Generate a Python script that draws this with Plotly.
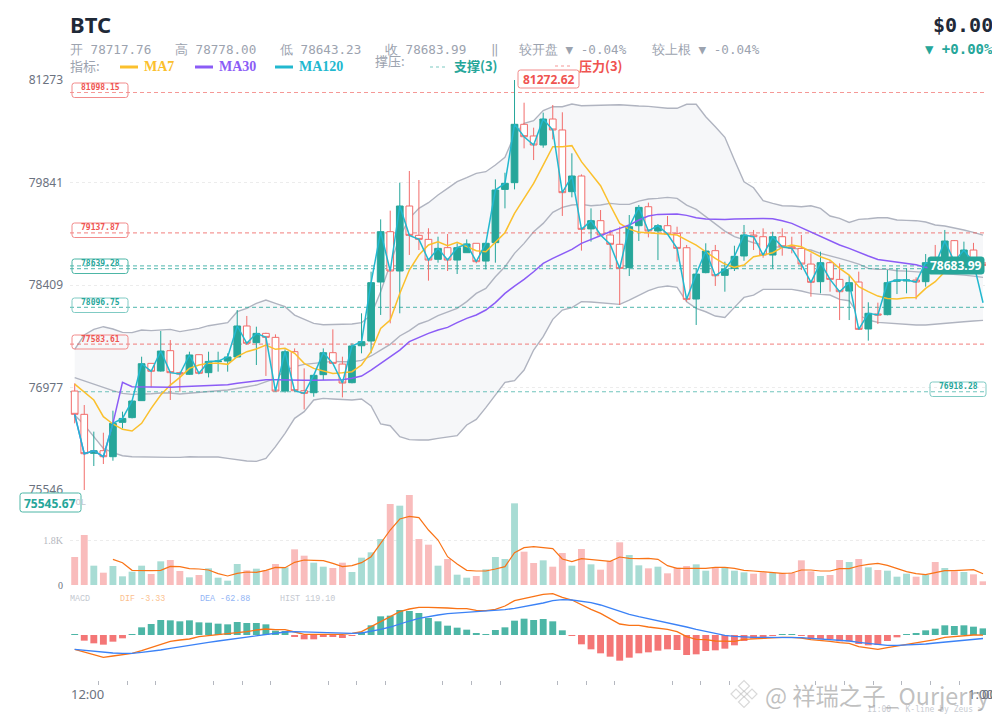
import plotly.graph_objects as go

# ---------------- Candles ----------------
opens = [76928, 76603, 76058, 76095, 76011, 76491, 76557, 76794, 77315, 77208, 77492, 77185,
         77162, 77436, 77185, 77338, 77347, 77404, 77837, 77604, 77734, 77678, 76928, 77478,
         76933, 76905, 77157, 77464, 77305, 77045, 77561, 77627, 78451, 79154, 78605, 79513,
         79103, 79047, 78768, 78931, 78758, 78861, 78992, 78744, 79001, 79745, 79839, 80654,
         80491, 80365, 80728, 80575, 79713, 79932, 79193, 79308, 79108, 78978, 78652, 79238,
         79503, 79164, 79238, 79131, 78930, 78214, 78582, 78889, 78544, 78642, 78815, 79108,
         79084, 78828, 79084, 78944, 78921, 78702, 78456, 78721, 78488, 78325, 78451, 77795,
         78005, 77995, 78461, 78465, 78479, 78456, 78721, 78689, 79029, 78721, 78898, 78717.76]
highs = [77036, 76733, 76361, 76346, 76654, 76640, 76803, 77408, 77315, 77767, 77641, 77199,
         77478, 77441, 77478, 77478, 77455, 78060, 77977, 77827, 77743, 77720, 77510, 77524,
         77245, 77153, 77524, 77790, 77408, 77595, 78014, 78596, 79326, 79448, 79839, 80002,
         79876, 79202, 79084, 79122, 78992, 79047, 78992, 78992, 79885, 79978, 81272.62, 80956,
         80607, 80817, 80924, 80822, 80249, 79955, 79480, 79457, 79178, 79224, 79387, 79527,
         79560, 79262, 79374, 79224, 78969, 78642, 78992, 78969, 78735, 78958, 79248, 79178,
         79201, 79154, 79201, 79084, 79108, 78852, 78875, 78758, 78712, 78548, 78596, 78168,
         78163, 78619, 78642, 78642, 78516, 78842, 78969, 79178, 79038, 79015, 78998, 78778]
lows = [76477, 75545.67, 75881, 75909, 75955, 76406, 76546, 76789, 76980, 77199, 76803, 76919,
        77153, 77166, 77119, 77199, 77199, 77399, 77572, 77292, 77139, 76919, 76905, 76919,
        76672, 76849, 77082, 77315, 76840, 77036, 77455, 77455, 77991, 77874, 78014, 78829,
        78898, 78470, 78721, 78605, 78563, 78861, 78712, 78628, 78721, 79480, 79745, 80318,
        80155, 80327, 80444, 79374, 79634, 78889, 79015, 79108, 78642, 78130, 78535, 79024,
        79075, 78758, 79108, 78735, 78177, 77851, 78573, 78396, 78316, 78605, 78748, 78898,
        78790, 78642, 78819, 78852, 78619, 78246, 78293, 78316, 77920, 77920, 77781, 77632,
        77864, 77986, 78283, 78293, 78209, 78386, 78573, 78619, 78573, 78573, 78573, 78643.23]
closes = [76603, 76053, 76095, 76011, 76477, 76546, 76789, 77310, 77204, 77487, 77185, 77166,
          77432, 77176, 77342, 77347, 77404, 77837, 77595, 77734, 77678, 76928, 77478, 76933,
          76896, 77148, 77464, 77315, 77040, 77558, 77618, 78442, 79154, 78605, 79513, 79103,
          79047, 78758, 78921, 78758, 78931, 78983, 78735, 78992, 79736, 79830, 80654, 80481,
          80365, 80728, 80575, 79699, 79932, 79187, 79308, 79108, 78978, 78642, 79224, 79494,
          79164, 79238, 79122, 78921, 78209, 78562, 78884, 78539, 78628, 78810, 79108, 79084,
          78828, 79084, 78944, 78921, 78702, 78447, 78721, 78488, 78316, 78442, 77790, 78014,
          77991, 78442, 78479, 78479, 78451, 78721, 78689, 79024, 78735, 78898, 78721, 78683.99]

# ---------------- Price overlays ----------------
ma7 = [77026, 76919, 76803, 76570, 76468, 76393, 76370, 76477, 76686, 76873, 77012, 77120,
       77245, 77292, 77315, 77315, 77301, 77408, 77478, 77515, 77571, 77511, 77525, 77455,
       77315, 77245, 77213, 77175, 77185, 77199, 77292, 77478, 77804, 77921, 78292, 78619,
       78828, 78968, 79014, 78958, 79005, 78945, 78889, 78875, 79005, 79140, 79410, 79620,
       79829, 80085, 80342, 80342, 80356, 80132, 79969, 79797, 79527, 79270, 79191, 79145,
       79140, 79131, 79121, 79107, 79037, 78968, 78874, 78781, 78702, 78656, 78688, 78805,
       78828, 78860, 78935, 78968, 78944, 78874, 78805, 78758, 78642, 78548, 78385, 78316,
       78255, 78222, 78213, 78232, 78236, 78362, 78455, 78595, 78595, 78618, 78642, 78595]
ma30 = [76603, 76053, 76095, 76011, 76477, 77050, 76989, 76985, 76980, 76980, 76980, 76989,
        76994, 77003, 77008, 77012, 77017, 77036, 77054, 77073, 77087, 77087, 77082, 77078,
        77078, 77078, 77082, 77087, 77087, 77106, 77138, 77222, 77315, 77408, 77501, 77618,
        77678, 77734, 77781, 77818, 77883, 77944, 77990, 78060, 78163, 78292, 78395, 78488,
        78595, 78712, 78781, 78842, 78907, 78991, 79047, 79107, 79154, 79201, 79247, 79317,
        79373, 79396, 79396, 79401, 79382, 79349, 79331, 79326, 79326, 79331, 79335, 79340,
        79340, 79335, 79308, 79270, 79210, 79145, 79093, 79028, 78968, 78921, 78865, 78814,
        78767, 78749, 78730, 78711, 78693, 78656, 78628, 78609, 78595, 78586, 78581, 78572]
ma120 = [76603, 76053, 76095, 76011, 76477, 76546, 76789, 77310, 77204, 77487, 77185, 77166,
         77432, 77176, 77342, 77347, 77404, 77837, 77595, 77734, 77678, 76928, 77478, 76933,
         76896, 77148, 77464, 77315, 77040, 77558, 77618, 78442, 79154, 78605, 79513, 79103,
         79047, 78758, 78921, 78758, 78931, 78983, 78735, 78992, 79736, 79830, 80654, 80481,
         80365, 80728, 80575, 79699, 79932, 79187, 79308, 79108, 78978, 78642, 79224, 79494,
         79164, 79238, 79122, 78921, 78209, 78562, 78884, 78539, 78628, 78810, 79108, 79084,
         78828, 79084, 78944, 78921, 78702, 78447, 78721, 78488, 78316, 78442, 77790, 78014,
         77991, 78442, 78479, 78479, 78451, 78721, 78689, 79024, 78735, 78898, 78721, 78162]
boll_upper = [77511, 77711, 77790, 77827, 77795, 77748, 77744, 77781, 77772, 77781, 77790, 77758,
              77781, 77804, 77841, 77865, 77883, 78037, 78084, 78153, 78200, 78153, 78107, 77990,
              77930, 77874, 77855, 77855, 77860, 77865, 77883, 77990, 78316, 78688, 79084, 79340,
              79480, 79559, 79666, 79759, 79853, 79908, 79969, 79992, 80085, 80193, 80505, 80668,
              80705, 80845, 80900, 80900, 80938, 80914, 80914, 80919, 80924, 80928, 80924, 80910,
              80905, 80891, 80878, 80878, 80934, 80934, 80760, 80621, 80473, 80155, 79852, 79768,
              79587, 79550, 79517, 79512, 79503, 79517, 79480, 79373, 79340, 79284, 79326, 79335,
              79349, 79349, 79317, 79312, 79308, 79289, 79247, 79233, 79210, 79177, 79145, 79107]
boll_mid = [77115, 77073, 77026, 76980, 76933, 76896, 76882, 76882, 76891, 76901, 76901, 76887,
            76896, 76910, 76919, 76933, 76943, 76961, 76989, 77012, 77059, 77106, 77213, 77269,
            77301, 77315, 77329, 77343, 77338, 77338, 77357, 77418, 77501, 77581, 77697, 77772,
            77865, 77911, 77981, 78028, 78084, 78177, 78292, 78362, 78525, 78665, 78851, 78991,
            79154, 79270, 79424, 79494, 79527, 79536, 79517, 79527, 79550, 79536, 79536, 79582,
            79610, 79620, 79634, 79620, 79526, 79466, 79363, 79270, 79163, 79084, 79037, 79000,
            78968, 78944, 78935, 78921, 78907, 78898, 78851, 78819, 78781, 78744, 78702, 78642,
            78628, 78628, 78609, 78604, 78595, 78590, 78581, 78572, 78558, 78548, 78534, 78516]
boll_lower = [76593, 76454, 76291, 76128, 76067, 76025, 76011, 76007, 76002, 75997, 76002, 76002,
              76011, 76007, 76011, 76007, 75988, 75965, 75951, 75946, 75988, 76151, 76337, 76547,
              76640, 76803, 76826, 76817, 76808, 76803, 76817, 76719, 76468, 76444, 76291, 76249,
              76244, 76244, 76267, 76286, 76305, 76454, 76533, 76696, 76873, 77050, 77073, 77222,
              77501, 77688, 77930, 78060, 78093, 78177, 78172, 78162, 78153, 78139, 78199, 78269,
              78330, 78376, 78395, 78376, 78176, 78083, 78036, 77976, 77957, 78097, 78236, 78269,
              78348, 78348, 78348, 78348, 78325, 78292, 78278, 78269, 78208, 78190, 77990, 77920,
              77887, 77878, 77864, 77859, 77850, 77850, 77864, 77878, 77887, 77896, 77906, 77915]

# ---------------- Volume ----------------
volumes = [1120, 2000, 773, 493, 760, 347, 533, 773, 440, 947, 1000, 560,
           307, 400, 667, 293, 173, 840, 587, 653, 587, 840, 707, 1427,
           1173, 893, 733, 680, 893, 520, 1093, 1307, 1840, 3240, 3173, 3600,
           1840, 1613, 773, 1040, 413, 293, 360, 627, 1120, 1040, 3267, 1333,
           880, 987, 733, 1280, 773, 1440, 827, 613, 960, 1707, 1200, 787,
           667, 733, 467, 693, 760, 827, 573, 707, 680, 573, 507, 453,
           507, 480, 467, 493, 987, 547, 360, 400, 1000, 920, 1040, 707,
           600, 573, 333, 453, 333, 400, 920, 680, 547, 520, 427, 147]
vol_ma = [None, None, None, None, 1027, 893, 587, 573, 573, 587, 747, 733,
          653, 640, 600, 453, 360, 467, 520, 507, 587, 707, 693, 907,
          1000, 987, 973, 867, 733, 773, 893, 1133, 1667, 2200, 2640, 2747,
          2693, 2200, 1800, 1133, 840, 587, 560, 560, 640, 733, 1293, 1493,
          1533, 1507, 1453, 1040, 933, 1053, 1027, 1000, 947, 1120, 1067, 1053,
          1067, 1027, 773, 667, 667, 693, 667, 707, 707, 667, 587, 560,
          533, 493, 467, 480, 600, 600, 560, 560, 653, 653, 760, 827,
          867, 787, 667, 533, 453, 413, 493, 573, 573, 600, 613, 453]

# ---------------- MACD ----------------
dif = [-258, -306, -354, -402, -378, -360, -330, -282, -228, -168, -114, -90,
       -72, -30, -12, 0, 18, 30, 60, 90, 108, 96, 96, 54,
       12, 12, 12, 0, 12, 30, 60, 150, 240, 330, 420, 468,
       498, 498, 498, 486, 474, 474, 444, 438, 462, 522, 618, 660,
       690, 732, 744, 678, 630, 540, 462, 390, 300, 198, 174, 174,
       144, 126, 102, 60, -30, -78, -84, -108, -114, -114, -78, -66,
       -54, -42, -42, -42, -54, -84, -96, -114, -138, -150, -210, -240,
       -258, -228, -198, -180, -150, -114, -84, -42, -30, -6, 0, -3.33]
dea = [-258, -276, -294, -312, -324, -330, -330, -312, -294, -270, -240, -210,
       -180, -156, -132, -108, -84, -66, -42, -18, 6, 30, 54, 60,
       54, 48, 42, 36, 36, 30, 36, 66, 102, 144, 204, 252,
       300, 336, 360, 384, 396, 408, 414, 420, 438, 456, 480, 510,
       540, 576, 618, 636, 630, 612, 582, 540, 480, 426, 372, 330,
       294, 258, 228, 192, 144, 102, 66, 30, -6, -24, -36, -42,
       -42, -42, -42, -42, -48, -60, -72, -84, -90, -108, -132, -150,
       -168, -186, -186, -180, -174, -162, -144, -126, -108, -90, -72, -62.88]
hist = [6, -102, -150, -174, -120, -60, 12, 138, 198, 270, 264, 246,
        264, 228, 222, 204, 192, 234, 216, 216, 192, 78, 72, -24,
        -78, -78, -36, -30, -54, -18, 54, 174, 336, 348, 450, 432,
        396, 306, 246, 168, 132, 96, 30, 12, 90, 138, 258, 294,
        270, 288, 246, 84, -12, -168, -258, -330, -390, -462, -408, -330,
        -312, -282, -258, -270, -360, -348, -288, -276, -246, -186, -108, -66,
        -66, -18, 12, 12, -12, -66, -72, -72, -114, -114, -162, -186,
        -180, -108, -42, 6, 24, 84, 114, 174, 162, 174, 150, 119.10]

# ---------------- Levels and ticks ----------------
resistance = [81098.15, 79137.87, 77583.61]
support = [78676, 78639.28, 78096.75, 76918.28]
price_ticks = [75546, 76977, 78409, 79841, 81273]
price_ticktext = ["75546", "76977", "78409", "79841", "81273"]
vol_ticks = [0, 1800, 3600]
vol_ticktext = ["0", "1.8K", "3.7K"]
macd_ticks = [-756, 0, 756]
macd_ticktext = ["-756", "0", "756"]
time_ticks = [2.5, 5.5, 8.5, 14.5, 17.5, 20.5, 26.5, 29.5, 32.5, 38.5, 41.5, 44.5,
              50.5, 53.5, 56.5, 62.5, 65.5, 68.5, 77.5, 80.5, 83.5, 86.5, 89.5, 92.5]

x = list(range(96))
x_range = [-0.49, 95.31]

TEAL = "#26a69a"
RED = "#ef5350"
GREY = "#9ca3af"
MONO = "DejaVu Sans Mono"
SANS = "Noto Sans CJK SC"
SERIF = "Liberation Serif"
# the page has an 8px body margin, so the figure is 8px short on each side
W, H = 992, 712
OFFSET = 8


def px(v):
    return (v - OFFSET) / W


def py(v):
    return 1 - (v - OFFSET) / H


fig = go.Figure()

# bands and levels sit on the base y axis, candles on an overlay so they draw on top
band = dict(color="#b0b4c0", width=1.4)
fig.add_trace(go.Scatter(x=x, y=boll_upper, mode="lines", line=band))
fig.add_trace(go.Scatter(x=x, y=boll_lower, mode="lines", line=band, fill="tonexty",
                         fillcolor="#f6f7f9"))
fig.add_trace(go.Scatter(x=x, y=boll_mid, mode="lines", line=band))

for v in resistance:
    fig.add_trace(go.Scatter(x=x_range, y=[v, v], mode="lines",
                             line=dict(color="rgba(239,83,80,0.6)", width=1.2, dash="4px,3px")))
for v in support:
    fig.add_trace(go.Scatter(x=x_range, y=[v, v], mode="lines",
                             line=dict(color="rgba(38,166,154,0.65)", width=1.2, dash="4px,3px")))

fig.add_trace(go.Candlestick(
    x=x, open=opens, high=highs, low=lows, close=closes, yaxis="y4",
    increasing=dict(line=dict(color=TEAL, width=1), fillcolor=TEAL),
    decreasing=dict(line=dict(color="#f26d6b", width=1), fillcolor="#ffffff"),
    whiskerwidth=0))
fig.add_trace(go.Scatter(x=x, y=ma7, mode="lines", yaxis="y4", line=dict(color="#fbc02d", width=1.5)))
fig.add_trace(go.Scatter(x=x, y=ma30, mode="lines", yaxis="y4", line=dict(color="#8b5cf6", width=1.5)))
fig.add_trace(go.Scatter(x=x, y=ma120, mode="lines", yaxis="y4", line=dict(color="#22b8cf", width=1.5)))

# ---------------- Volume panel ----------------
vol_colors = ["#a8dcd4" if c >= o else "#f9bcbc" for o, c in zip(opens, closes)]
fig.add_trace(go.Bar(x=x, y=volumes, yaxis="y2", width=0.72, marker=dict(color=vol_colors, line_width=0)))
fig.add_trace(go.Scatter(x=x, y=vol_ma, mode="lines", yaxis="y5", line=dict(color="#f97316", width=1.2)))

# ---------------- MACD panel ----------------
hist_colors = ["#4db6a6" if h >= 0 else "#f47676" for h in hist]
fig.add_trace(go.Bar(x=x, y=hist, yaxis="y3", width=0.72, marker=dict(color=hist_colors, line_width=0)))
fig.add_trace(go.Scatter(x=x, y=dif, mode="lines", yaxis="y6", line=dict(color="#f97316", width=1.3)))
fig.add_trace(go.Scatter(x=x, y=dea, mode="lines", yaxis="y6", line=dict(color="#3b82f6", width=1.3)))


def text(xp, yp, s, size, color, family=MONO, anchor="left"):
    # annotations carry about 2px of padding round the text
    nudge = {"left": -2, "right": 1, "center": 0}[anchor]
    return dict(xref="paper", yref="paper", x=px(xp + nudge), y=py(yp), text=s, showarrow=False,
                xanchor=anchor, yanchor="middle", font=dict(size=size, color=color, family=family))


def round_box(x0, y0, x1, y1, color, fill="#ffffff", r=2.5):
    rx, ry = r / W, r / H
    a, b, c, d = px(x0), px(x1), py(y0), py(y1)
    path = (f"M{a + rx},{c} L{b - rx},{c} Q{b},{c} {b},{c - ry} L{b},{d + ry} Q{b},{d} {b - rx},{d} "
            f"L{a + rx},{d} Q{a},{d} {a},{d + ry} L{a},{c - ry} Q{a},{c} {a + rx},{c} Z")
    return dict(type="path", path=path, xref="paper", yref="paper", layer="above",
                line=dict(color=color, width=1), fillcolor=fill)


def legend_line(x0, x1, y, color, width=3, dash="solid"):
    return dict(type="line", xref="paper", yref="paper", x0=px(x0), x1=px(x1), y0=py(y), y1=py(y),
                line=dict(color=color, width=width, dash=dash), layer="above")


def diamond(cx, cy, r):
    a, b = r / W, r / H
    path = f"M{px(cx) - a},{py(cy)} L{px(cx)},{py(cy) + b} L{px(cx) + a},{py(cy)} L{px(cx)},{py(cy) - b} Z"
    return dict(type="path", path=path, xref="paper", yref="paper", layer="above",
                line=dict(color="rgba(170,170,170,0.45)", width=1.2),
                fillcolor="rgba(255,255,255,0.5)")


notes = [
    text(70, 24, "<b>BTC</b>", 22, "#1f2937", "Noto Sans"),
    text(994, 25, "<b>$0.00</b>", 20, "#1f2937", MONO, "right"),
    text(70, 49, "开 78717.76", 12.6, GREY),
    text(175, 49, "高 78778.00", 12.6, GREY),
    text(280, 49, "低 78643.23", 12.6, GREY),
    text(385, 49, "收 78683.99", 12.6, GREY),
    text(491, 49, "‖", 12.6, GREY),
    text(519, 49, "较开盘 ▼ -0.04%", 12.6, GREY),
    text(652, 49, "较上根 ▼ -0.04%", 12.6, GREY),
    text(994, 49, "<b>▼ +0.00%</b>", 14, TEAL, MONO, "right"),
    text(70, 65, "指标:", 13, GREY, SANS),
    text(144, 66, "<b>MA7</b>", 14, "#fbc02d", SERIF),
    text(219, 66, "<b>MA30</b>", 14, "#8b5cf6", SERIF),
    text(299, 66, "<b>MA120</b>", 14, "#22b8cf", SERIF),
    text(375, 61, "撑压:", 13, GREY, SANS),
    text(454, 65, "<b>支撑(3)</b>", 13, TEAL, SANS),
    text(579, 65, "<b>压力(3)</b>", 13, RED, SANS),
    text(70, 503, "VOL", 9, "#c4c8d0", "Liberation Mono"),
    text(548.5, 79, "<b>81272.62</b>", 12, "#ef5350", "Noto Sans", "center"),
    text(50, 503, "<b>75545.67</b>", 12, TEAL, "Noto Sans", "center"),
    text(956, 265.5, "<b>78683.99</b>", 12, "#ffffff", "Noto Sans", "center"),
    text(100, 87, "<b>81098.15</b>", 8, "#ef5350", MONO, "center"),
    text(100, 227, "<b>79137.87</b>", 8, "#ef5350", MONO, "center"),
    text(100, 263, "<b>78639.28</b>", 8, TEAL, MONO, "center"),
    text(100, 302, "<b>78096.75</b>", 8, TEAL, MONO, "center"),
    text(100, 339, "<b>77583.61</b>", 8, "#ef5350", MONO, "center"),
    text(958, 386, "<b>76918.28</b>", 8, TEAL, MONO, "center"),
    text(70, 599, "MACD", 8.4, "#c4c8d0", "Liberation Mono"),
    text(120, 599, "DIF -3.33", 8.4, "#fbbf8f", "Liberation Mono"),
    text(200, 599, "DEA -62.88", 8.4, "#93b5f5", "Liberation Mono"),
    text(280, 599, "HIST 119.10", 8.4, "#c4c8d0", "Liberation Mono"),
    text(71, 694, "12:00", 13, "#6b7280", "Noto Sans"),
    text(968, 694, "1:00", 13, "#6b7280", "Noto Sans"),
    text(982, 694, "00:45", 13, "#6b7280", "Noto Sans"),
    text(867, 709, "11:00 · K-line by Zeus &gt;", 8, "#c9ccd2"),
    text(765, 695, "@ 祥瑞之子_Ourjerry", 23.3, "rgba(150,150,150,0.6)", SANS),
]

shapes = [
    legend_line(120, 138, 67, "#fbc02d"),
    legend_line(195, 213, 67, "#8b5cf6"),
    legend_line(275, 293, 67, "#22b8cf"),
    legend_line(430, 445, 67, "rgba(38,166,154,0.6)", 1.2, "3px,3px"),
    legend_line(555, 572, 66, "rgba(239,83,80,0.6)", 1.2, "3px,3px"),
    round_box(72, 83, 128, 97.5, "#f28b8b", "rgba(255,255,255,0)"),
    round_box(72, 223, 128, 237.5, "#f28b8b", "rgba(255,255,255,0)"),
    round_box(72, 259, 128, 273.5, "#4db6a6", "rgba(255,255,255,0)"),
    round_box(72, 298, 128, 312.5, "#80cbc4", "rgba(255,255,255,0)"),
    round_box(72, 335, 128, 349, "#f28b8b", "rgba(255,255,255,0)"),
    round_box(930, 382, 986, 396.5, "#80cbc4", "rgba(255,255,255,0)"),
    round_box(518, 70, 579, 88, "#f28b8b"),
    round_box(20, 493, 81, 512, "#4db6a6"),
    round_box(928, 257, 984, 274, TEAL, TEAL),
    diamond(744, 686, 5.5),
    diamond(736, 694, 5),
    diamond(752, 694, 5),
    diamond(744, 702, 5.5),
    diamond(744, 694, 3),
]

grid = dict(showgrid=True, gridcolor="#ececec", griddash="dot", gridwidth=1, zeroline=False, showline=False)
# right hand axes: their labels run off the page edge in the original
right = dict(anchor="x", side="right", tickmode="array", ticks="", ticklabelstandoff=5,
             showgrid=False, zeroline=False, showline=False, automargin=False)
fig.update_layout(
    width=W, height=H,
    margin=dict(l=0, r=0, t=0, b=0, autoexpand=False),
    paper_bgcolor="white", plot_bgcolor="white",
    showlegend=False,
    boxgap=0.3, boxgroupgap=0,
    xaxis=dict(domain=[px(70), px(986)], range=x_range, anchor="free", position=py(680),
               rangeslider=dict(visible=False), showgrid=False, zeroline=False, showline=False,
               tickmode="array", tickvals=time_ticks, ticktext=["" for _ in time_ticks],
               ticks="outside", ticklen=4, tickcolor="#b5b8c0", tickwidth=1, automargin=False),
    yaxis=dict(domain=[py(490), py(80)], range=[75546, 81273], anchor="x", tickmode="array",
               tickvals=price_ticks, ticktext=price_ticktext,
               tickfont=dict(size=12, color="#6b7280", family="Noto Sans"),
               ticks="", ticklabelstandoff=6, automargin=False, **grid),
    yaxis2=dict(domain=[py(585), py(495)], range=[0, 3600], anchor="x", tickmode="array",
                tickvals=vol_ticks, ticktext=["<span style='color:#6b7280'>0</span>", "1.8K", "3.7K"],
                tickfont=dict(size=10, color="#b5b8c0", family=SERIF), ticks="", ticklabelstandoff=6,
                automargin=False, **grid),
    yaxis3=dict(domain=[py(677), py(593)], range=[-756, 756], anchor="x", showticklabels=False,
                showgrid=False, zeroline=False, showline=False, automargin=False),
    yaxis4=dict(overlaying="y", range=[75546, 81273], tickvals=price_ticks, ticktext=price_ticktext,
                tickfont=dict(size=12, color="#6b7280", family="Noto Sans"), **right),
    yaxis5=dict(overlaying="y2", range=[0, 3600], tickvals=vol_ticks, ticktext=vol_ticktext,
                tickfont=dict(size=12, color="#6b7280", family=MONO), **right),
    yaxis6=dict(overlaying="y3", range=[-756, 756], tickvals=macd_ticks, ticktext=macd_ticktext,
                tickfont=dict(size=12, color="#6b7280", family=MONO), **right),
    annotations=notes,
    shapes=shapes,
)

fig.write_html("out.html")
